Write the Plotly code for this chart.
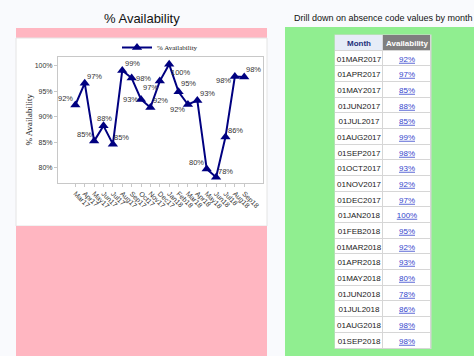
import plotly.graph_objects as go

months = ["Mar17", "Apr17", "May17", "Jun17", "Jul17", "Aug17", "Sep17", "Oct17", "Nov17",
          "Dec17", "Jan18", "Feb18", "Mar18", "Apr18", "May18", "Jun18", "Jul18", "Aug18", "Sep18"]
availability = [92.3, 96.6, 85.2, 88.2, 84.6, 99.1, 97.6, 93.4, 91.8,
                97.0, 100.3, 94.9, 92.4, 93.2, 79.7, 78.1, 86.0, 97.9, 97.8]
table_months = ["01MAR2017", "01APR2017", "01MAY2017", "01JUN2017", "01JUL2017", "01AUG2017",
                "01SEP2017", "01OCT2017", "01NOV2017", "01DEC2017", "01JAN2018", "01FEB2018",
                "01MAR2018", "01APR2018", "01MAY2018", "01JUN2018", "01JUL2018", "01AUG2018",
                "01SEP2018"]
table_values = ["92%", "97%", "85%", "88%", "85%", "99%", "98%", "93%", "92%", "97%",
                "100%", "95%", "92%", "93%", "80%", "78%", "86%", "98%", "98%"]
table_headers = ["Month", "Availability"]
y_ticks = [80, 85, 90, 95, 100]
y_tick_labels = ["80%", "85%", "90%", "95%", "100%"]
# label offsets from each marker (pixels, right / down)
label_dx = [-10, 10, -9.5, 0.5, 9, 10, 11.5, -11, 9.6, -9.5, 12, 9.7, -10.7, 9.7, -10.5, 9, 10, -11, 9]
label_dy = [-7, -7, -7, -7, -7, -7, 0, 0, -7, 6, 7.7, -8, 5, -7, -7, -6, -7, 4.3, -7.3]

W, H = 474, 356
def px(x):
    return x / W
def py(y):
    return 1 - y / H

SANS = "Liberation Sans, Arial, sans-serif"
SERIF = "Liberation Serif, Times New Roman, serif"

fig = go.Figure()

fig.add_trace(go.Scatter(
    x=months, y=availability, mode="lines+markers",
    name="% Availability",
    line=dict(color="#000080", width=2),
    marker=dict(symbol="triangle-up", size=9, color="#000080"),
    cliponaxis=False, xaxis="x", yaxis="y",
))

# ---- table drawn as one heatmap of cells ----
row_order = ["header"] + table_months
z_cells = [[1, 2]] + [[0, 0] for _ in table_months]
text_cells = [["<span style='color:#1f2f7a'><b>" + table_headers[0] + "</b></span>",
               "<span style='color:#ffffff'><b>" + table_headers[1] + "</b></span>"]]
text_cells += [[m, "<span style='color:#3344cc'><u>" + v + "</u></span>"]
               for m, v in zip(table_months, table_values)]

fig.add_trace(go.Heatmap(
    x=table_headers, y=row_order, z=z_cells, text=text_cells, texttemplate="%{text}",
    textfont=dict(family=SANS, size=8, color="#222222"),
    colorscale=[[0, "#ffffff"], [0.5, "#e6ecf7"], [1, "#7f7f7f"]], zmin=0, zmax=2,
    xgap=1, ygap=1, showscale=False, hoverinfo="skip", showlegend=False,
    xaxis="x2", yaxis="y2",
))

shapes = [
    dict(type="rect", xref="paper", yref="paper", x0=px(16), x1=px(267), y0=py(38), y1=py(28),
         fillcolor="#ffb6c1", line=dict(width=0), layer="below"),
    dict(type="rect", xref="paper", yref="paper", x0=px(16), x1=px(267), y0=py(226), y1=py(38),
         fillcolor="white", line=dict(color="#e4e4e4", width=1), layer="below"),
    dict(type="rect", xref="paper", yref="paper", x0=px(16), x1=px(267), y0=0, y1=py(226),
         fillcolor="#ffb6c1", line=dict(width=0), layer="below"),
    dict(type="rect", xref="paper", yref="paper", x0=px(285), x1=1, y0=0, y1=py(27),
         fillcolor="#90ee90", line=dict(width=0), layer="below"),
    dict(type="rect", xref="paper", yref="paper", x0=px(334.5), x1=px(431.5), y0=py(349), y1=py(34.5),
         fillcolor="#d6d6d6", line=dict(width=0), layer="below"),
]

annotations = [
    dict(text="% Availability", x=px(142), y=py(19), xref="paper", yref="paper",
         showarrow=False, font=dict(family=SANS, size=13, color="#111111"),
         xanchor="center", yanchor="middle"),
    dict(text="Drill down on absence code values by month", x=px(383), y=py(18), xref="paper", yref="paper",
         showarrow=False, font=dict(family=SANS, size=9, color="#111111"),
         xanchor="center", yanchor="middle"),
]
for m, v, dx, dy in zip(months, availability, label_dx, label_dy):
    annotations.append(dict(
        text=f"{v:.0f}%", x=m, y=v, xref="x", yref="y", showarrow=False,
        xshift=dx, yshift=-dy, xanchor="center", yanchor="middle",
        font=dict(family=SANS, size=7.5, color="#333333")))

fig.update_layout(
    width=W, height=H,
    margin=dict(l=0, r=0, t=0, b=0),
    paper_bgcolor="#f9fafd",
    plot_bgcolor="rgba(0,0,0,0)",
    shapes=shapes,
    annotations=annotations,
    showlegend=True,
    legend=dict(orientation="h", x=px(160), y=py(47.5), xanchor="center", yanchor="middle",
                bgcolor="rgba(0,0,0,0)",
                font=dict(family=SERIF, size=7, color="#222222")),
    xaxis=dict(domain=[px(58), px(263)], range=[-1.85, 20.0], tickangle=45,
               tickfont=dict(family=SANS, size=7, color="#333333"),
               showgrid=False, zeroline=False, showline=True, linecolor="#c8c8c8", mirror=True,
               ticks="outside", ticklen=3, tickcolor="#c8c8c8", anchor="y"),
    yaxis=dict(domain=[py(182.8), py(56.7)], range=[77.0, 101.8],
               tickvals=y_ticks, ticktext=y_tick_labels,
               tickfont=dict(family=SANS, size=7, color="#333333"),
               title=dict(text="% Availability", standoff=0,
                          font=dict(family=SERIF, size=9, color="#222222")),
               showgrid=False, zeroline=False, showline=True, linecolor="#c8c8c8", mirror=True,
               ticks="outside", ticklen=3, tickcolor="#c8c8c8", anchor="x"),
    xaxis2=dict(domain=[px(335), px(431)], anchor="y2", type="category",
                categoryorder="array", categoryarray=table_headers, range=[-0.5, 1.5],
                visible=False, fixedrange=True),
    yaxis2=dict(domain=[py(348.5), py(35)], anchor="x2", type="category",
                categoryorder="array", categoryarray=row_order, range=[len(row_order) - 0.5, -0.5],
                visible=False, fixedrange=True),
)

fig.write_html("out.html", config={"displayModeBar": False},
               post_script="document.body.style.margin='0';document.body.style.overflow='hidden';")
